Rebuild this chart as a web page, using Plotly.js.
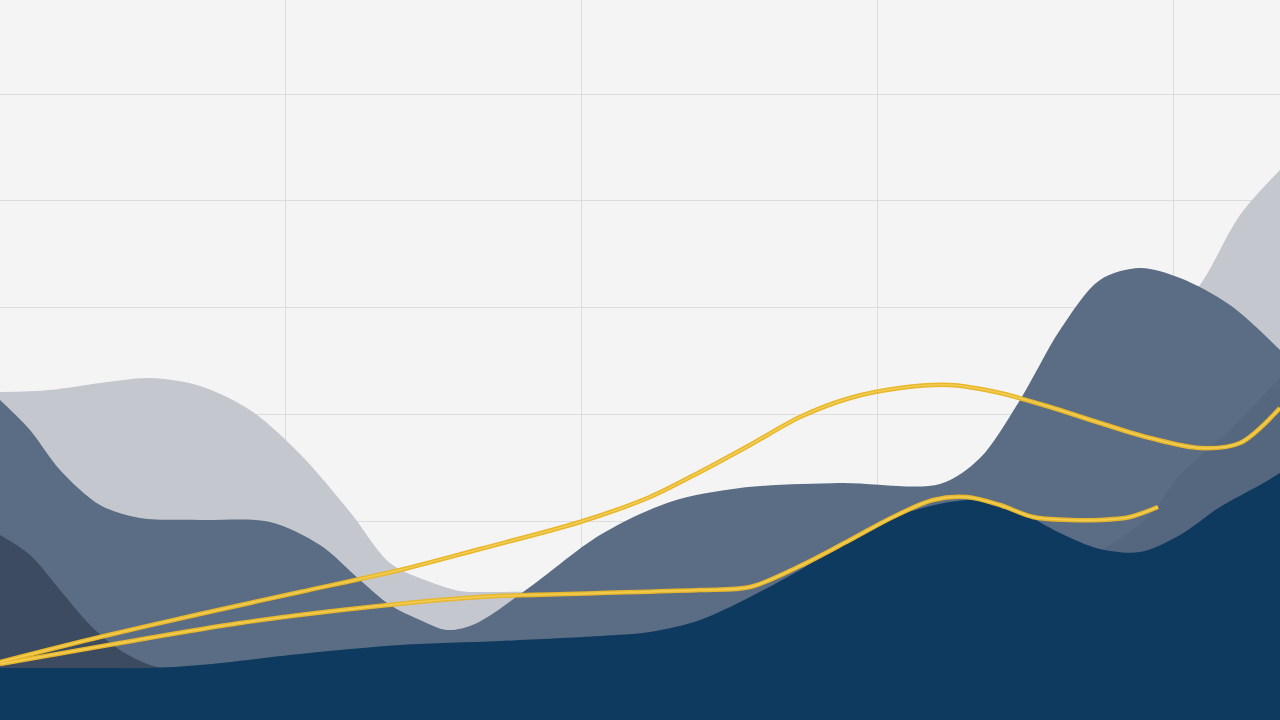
<!DOCTYPE html>
<html>
<head>
<meta charset="utf-8">
<script src="https://cdn.plot.ly/plotly-3.0.1.min.js"></script>
<style>html,body{margin:0;padding:0;background:#f4f4f4;}#chart{width:1280px;height:720px;}</style>
</head>
<body>
<div id="chart"></div>
<script>
// Light gray back ridge
const grayX = [0,50,100,150,200,250,300,350,390,425,460,495,525,570,650,800,1000,1100,1160,1200,1240,1280];
const grayY = [328,330,337,342,334,310,266,208,157,140,129,128,128,122,110,90,160,300,390,435,505,550];
// Slate ridge
const slateX = [0,30,60,100,140,200,270,320,360,390,420,447,475,530,600,670,740,840,940,980,1020,1060,1100,1140,1180,1230,1280];
const slateY = [320,290,250,215,202,200,198,175,140,115,100,90,96,133,185,218,232,237,236,262,320,390,440,452,442,415,370];
// Darker slate overlay on the right
const slate2X = [1060,1110,1150,1180,1230,1280];
const slate2Y = [150,175,205,245,290,342];
// Dark left hill
const darkX = [0,30,60,90,120,150,180,200];
const darkY = [185,165,130,95,70,55,48,40];
// Navy base
const navyX = [0,100,150,200,300,400,500,600,650,700,750,800,850,900,950,980,1020,1060,1100,1140,1180,1220,1260,1280];
const navyY = [52,52,52,55,66,75,79,84,88,100,123,150,180,205,218,220,208,187,171,168,185,213,235,247];
// Gold lines
const goldAX = [0,100,200,300,400,480,580,650,700,750,800,850,900,950,1000,1050,1100,1150,1200,1240,1280];
const goldAY = [58,83,106,128,150,171,198,223,248,275,303,322,332,335,327,313,297,282,272,277,312];
const goldBX = [0,120,240,360,480,600,700,750,800,850,893,933,967,1000,1033,1070,1100,1130,1158];
const goldBY = [56,77,97,112,123,127,130,133,154,180,203,220,223,215,203,200,200,203,213];

function area(x, y, color) {
  return {x: x, y: y, type: 'scatter', mode: 'lines', fill: 'tozeroy',
    fillcolor: color, line: {shape: 'spline', smoothing: 0.9, width: 0, color: color},
    hoverinfo: 'skip', showlegend: false};
}
function gold(x, y, color, w) {
  return {x: x, y: y, type: 'scatter', mode: 'lines',
    line: {shape: 'spline', smoothing: 0.9, width: w, color: color},
    hoverinfo: 'skip', showlegend: false};
}
const data = [
  area(grayX, grayY, '#c4c8ce'),
  area(slateX, slateY, '#5a6d84'),
  area(slate2X, slate2Y, 'rgba(70,88,112,0.25)'),
  area(darkX, darkY, '#3c4b60'),
  area(navyX, navyY, '#0e3a60'),
  gold(goldAX, goldAY, '#e9b72a', 4.5),
  gold(goldBX, goldBY, '#e9b72a', 4.5),
  gold(goldAX, goldAY, 'rgba(250,232,140,0.45)', 1.5),
  gold(goldBX, goldBY, 'rgba(250,232,140,0.45)', 1.5)
];
const layout = {
  width: 1280, height: 720,
  margin: {l: 0, r: 0, t: 0, b: 0},
  paper_bgcolor: '#f4f4f4', plot_bgcolor: '#f4f4f4',
  xaxis: {range: [0, 1280], tick0: 285, dtick: 296, showgrid: true, gridcolor: '#dcdcdc', gridwidth: 1,
    zeroline: false, showticklabels: false, ticks: '', showline: false, fixedrange: true},
  yaxis: {range: [0, 720], tick0: 92.25, dtick: 106.75, showgrid: true, gridcolor: '#dcdcdc', gridwidth: 1,
    zeroline: false, showticklabels: false, ticks: '', showline: false, fixedrange: true},
  showlegend: false
};
Plotly.newPlot('chart', data, layout, {staticPlot: true, displayModeBar: false});
</script>
</body>
</html>
